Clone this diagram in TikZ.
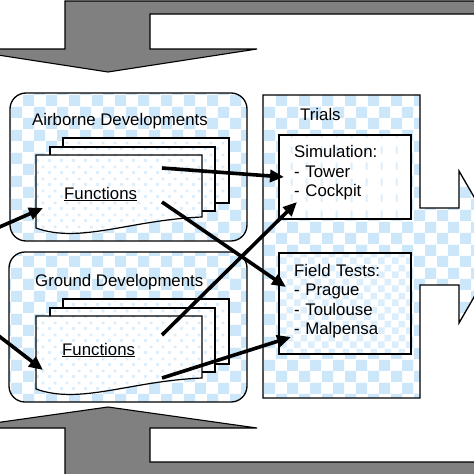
\documentclass[tikz,border=0pt]{standalone}
\usepackage{fontspec}
\setmainfont{Liberation Sans}
\usetikzlibrary{arrows.meta,patterns}
\definecolor{chk}{HTML}{CCE6FA}
\definecolor{chklite}{HTML}{DCEEFB}
\definecolor{bandgray}{HTML}{808080}
% fill patterns: big checks, small checks, vertical dashes, dots
\pgfdeclarepatternformonly{bluecheck}{\pgfqpoint{0pt}{0pt}}{\pgfqpoint{23pt}{23pt}}{\pgfqpoint{23pt}{23pt}}{%
  \pgfpathrectangle{\pgfqpoint{0pt}{0pt}}{\pgfqpoint{11.5pt}{11.5pt}}%
  \pgfpathrectangle{\pgfqpoint{11.5pt}{11.5pt}}{\pgfqpoint{11.5pt}{11.5pt}}%
  \pgfusepath{fill}}
\pgfdeclarepatternformonly{smallcheck}{\pgfqpoint{0pt}{0pt}}{\pgfqpoint{14pt}{14pt}}{\pgfqpoint{14pt}{14pt}}{%
  \pgfpathrectangle{\pgfqpoint{0pt}{0pt}}{\pgfqpoint{7pt}{7pt}}%
  \pgfpathrectangle{\pgfqpoint{7pt}{7pt}}{\pgfqpoint{7pt}{7pt}}%
  \pgfusepath{fill}}
\pgfdeclarepatternformonly{bluedash}{\pgfqpoint{0pt}{0pt}}{\pgfqpoint{15pt}{16pt}}{\pgfqpoint{15pt}{16pt}}{%
  \pgfpathrectangle{\pgfqpoint{6pt}{0pt}}{\pgfqpoint{2pt}{8pt}}%
  \pgfusepath{fill}}
\pgfdeclarepatternformonly{bluedots}{\pgfqpoint{0pt}{0pt}}{\pgfqpoint{12pt}{12pt}}{\pgfqpoint{12pt}{12pt}}{%
  \pgfpathrectangle{\pgfqpoint{0pt}{0pt}}{\pgfqpoint{3pt}{3pt}}%
  \pgfpathrectangle{\pgfqpoint{6pt}{6pt}}{\pgfqpoint{3pt}{3pt}}%
  \pgfusepath{fill}}

\begin{document}
\begin{tikzpicture}[x=1pt,y=-1pt,font=\fontsize{16.8}{19.5}\selectfont,
   outl/.style={draw=black,line width=1.3pt},
   band/.style={draw=black,line width=1.1pt,fill=bandgray},
   devbox/.style={outl,rounded corners=16pt,preaction={fill=white},pattern=bluecheck,pattern color=chk},
   fnpage/.style={outl,line width=1.2pt,preaction={fill=white},pattern=bluedots,pattern color=chklite},
   flow/.style={line width=3.6pt,-{Triangle[length=14pt,width=12pt]}},
   txt/.style={inner sep=0pt,anchor=base west},
   listing/.style={txt,align=left,text width=4cm}]
\useasboundingbox (0,0) rectangle (474,474);
\clip (0,0) rectangle (474,474);
% three stacked function pages, shifted down for the ground box
\newcommand{\fnstack}[1]{\begin{scope}[shift={(0,#1)}]
  \draw[fnpage] (63,138) rectangle (229,203);
  \draw[fnpage] (50,147) rectangle (215,211);
  \draw[fnpage] (36,155) -- (202,155) -- (202,217) .. controls (130,220) and (80,244) .. (36,228) -- cycle;
\end{scope}}
% grey feedback bands, top and bottom
\draw[band] (490,1) -- (65,1) -- (65,49) -- (-41,49) -- (108,72) -- (257,49) -- (150,49) -- (150,14) -- (490,14) -- cycle;
\draw[band] (490,480) -- (65,480) -- (65,428) -- (-41,428) -- (108,407) -- (257,428) -- (150,428) -- (150,462) -- (490,462) -- cycle;
% development boxes
\draw[devbox] (10,93) rectangle (247,241);
\draw[devbox] (9,252) rectangle (247,402);
\fnstack{0}
\fnstack{161}
% trials shape with its outgoing arrow
\draw[outl,preaction={fill=white},pattern=bluecheck,pattern color=chk]
  (263,95) -- (420,95) -- (420,208) -- (459,208) -- (459,171) -- (503,247)
  -- (459,323) -- (459,285) -- (420,285) -- (420,398) -- (263,398) -- cycle;
\draw[outl,preaction={fill=white},pattern=bluedash,pattern color=chklite] (279,135) rectangle (411,219);
\draw[outl,preaction={fill=white},pattern=smallcheck,pattern color=chklite] (279,253) rectangle (411,354);
% texts
\node[txt] (airtitle) at (32,125) {Airborne Developments};
\node[txt] (airfunc) at (64,199) {\underline{Functions}};
\node[txt] (gndtitle) at (35,286.5) {Ground Developments};
\node[txt] (gndfunc) at (62,355) {\underline{Functions}};
\node[txt] (trialstitle) at (300,120.5) {Trials};
\node[listing] (sim) at (294,157.5) {Simulation:\\- Tower\\- Cockpit};
\node[listing] (field) at (294,276) {Field Tests:\\- Prague\\- Toulouse\\- Malpensa};
% arrow ends
\coordinate (airIn) at (-5,229);   \coordinate (airTip) at (43,208);
\coordinate (gndIn) at (-5,333);   \coordinate (gndTip) at (43,370);
\coordinate (airOutA) at (162,168); \coordinate (simIn) at (284,177);
\coordinate (airOutB) at (162,202); \coordinate (fieldIn) at (286,287);
\coordinate (gndOutA) at (162,335); \coordinate (simLow) at (297,202);
\coordinate (gndOutB) at (162,378); \coordinate (fieldLow) at (291,337);
\draw[flow] (airIn) -- (airTip);
\draw[flow] (gndIn) -- (gndTip);
\draw[flow] (airOutA) -- (simIn);
\draw[flow] (airOutB) -- (fieldIn);
\draw[flow] (gndOutA) -- (simLow);
\draw[flow] (gndOutB) -- (fieldLow);
\end{tikzpicture}
\end{document}
